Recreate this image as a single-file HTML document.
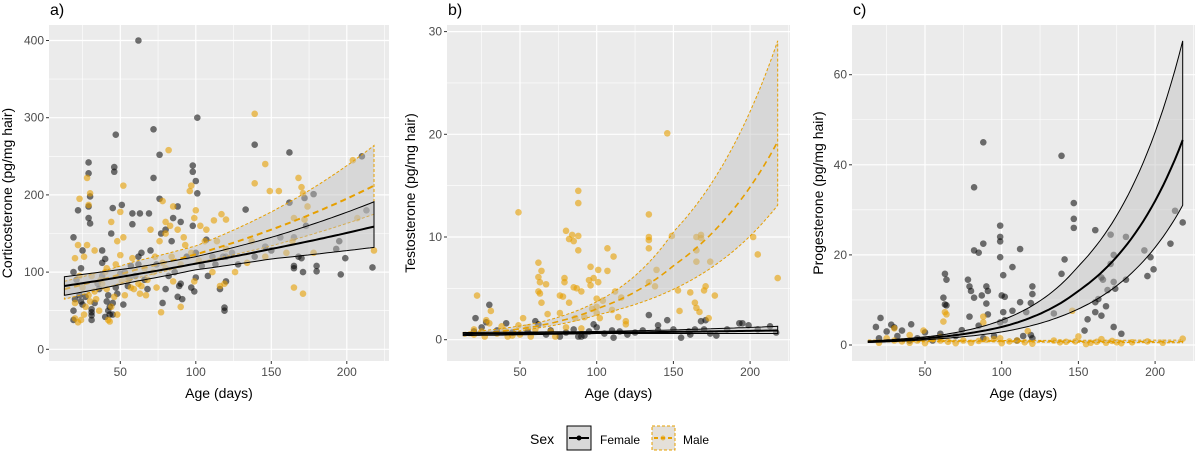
<!DOCTYPE html>
<html><head><meta charset="utf-8">
<style>
html,body{margin:0;padding:0;background:#fff;}
svg{display:block;font-family:"Liberation Sans",Arial,sans-serif;}
</style></head>
<body>
<svg id="chart" width="1200" height="451" viewBox="0 0 1200 451">
  <g>
    <text x="530" y="444" font-size="14" fill="#000">Sex</text>
    <g>
      <rect x="567" y="426" width="24" height="24" fill="#D9D9D9" stroke="#000" stroke-width="1"/>
      <line x1="569" y1="438" x2="589" y2="438" stroke="#000" stroke-width="2"/>
      <circle cx="579" cy="438" r="2.5" fill="#000"/>
      <text x="600" y="444" font-size="12" fill="#000">Female</text>
    </g>
    <g>
      <rect x="652" y="426" width="23" height="24" fill="#E4E0D9" stroke="#E69F00" stroke-width="1" stroke-dasharray="3,2"/>
      <line x1="654" y1="438" x2="673" y2="438" stroke="#E69F00" stroke-width="2" stroke-dasharray="4,3"/>
      <circle cx="663" cy="438" r="2.5" fill="#E69F00" fill-opacity="0.6"/>
      <text x="683" y="444" font-size="12" fill="#000">Male</text>
    </g>
  </g>
</svg>
<script>
// ---------- data ----------
const fitAges = [13, 60, 100, 150, 218];

const cortFemaleFit = [82, 97, 111, 130, 159];
const cortFemaleLo  = [70, 88, 103, 117, 132];
const cortFemaleHi  = [94, 106, 120, 145, 191];
const cortMaleFit   = [78, 103, 123, 155, 212];
const cortMaleLo    = [65, 92, 112, 134, 175];
const cortMaleHi    = [88, 114, 134, 178, 264];
const cortFemalePts = [[62,400],[101,300],[72,285],[47,278],[139,265],[76,252],[162,255],[29,242],[46,236],[46,230],[29,228],[98,238],[98,230],[100,218],[72,222],[101,202],[30,198],[210,250],[178,201],[172,196],[29,185],[51,187],[22,180],[58,176],[63,176],[69,176],[76,195],[88,185],[133,181],[162,190],[213,180],[29,170],[30,163],[45,183],[58,162],[44,150],[19,145],[77,150],[80,155],[90,165],[98,160],[107,142],[118,120],[139,120],[146,133],[156,145],[165,145],[165,108],[165,105],[171,100],[173,160],[180,108],[180,101],[193,130],[195,140],[199,118],[196,97],[217,106],[19,100],[21,90],[24,105],[25,128],[20,65],[19,50],[19,38],[31,52],[31,38],[38,128],[38,112],[42,70],[43,55],[47,80],[45,60],[52,58],[53,100],[57,108],[60,95],[64,125],[68,78],[78,60],[80,78],[88,68],[90,85],[91,65],[97,80],[99,75],[100,93],[104,108],[111,120],[116,78],[119,50],[119,54],[120,88],[120,120],[128,110],[150,128],[168,120],[170,118],[38,95],[35,85],[27,68],[45,45],[40,42],[33,60],[23,70],[55,82],[84,140],[85,170],[40,117],[24,62],[25,58],[31,48],[31,44],[36,78],[41,62],[42,50],[43,45],[48,72],[50,98],[56,92],[62,120],[62,110],[66,90],[70,128],[74,110],[82,95],[86,100],[89,82],[94,120],[100,125],[108,95],[113,110],[124,125]];
const cortMalePts = [[139,305],[82,258],[146,240],[204,245],[139,215],[149,205],[155,205],[168,222],[170,210],[171,202],[174,185],[96,205],[97,212],[52,212],[28,222],[30,202],[23,195],[29,187],[50,178],[78,192],[85,185],[100,180],[88,155],[80,165],[70,155],[80,150],[99,170],[103,160],[107,155],[117,175],[120,168],[112,167],[165,170],[172,168],[207,170],[137,140],[114,140],[97,125],[92,145],[52,145],[48,140],[44,165],[22,135],[28,135],[33,128],[20,118],[26,120],[41,105],[50,122],[58,118],[66,105],[72,100],[78,112],[80,105],[84,120],[90,110],[120,130],[134,112],[165,80],[171,72],[178,125],[218,128],[23,95],[20,60],[22,35],[26,45],[30,62],[33,75],[36,50],[42,38],[44,55],[46,68],[48,45],[53,70],[57,80],[63,72],[68,90],[74,80],[77,48],[85,88],[90,55],[99,88],[111,100],[116,82],[119,85],[126,100],[146,120],[160,125],[164,140],[31,95],[38,85],[40,100],[55,90],[62,85],[25,80],[20,40],[24,38],[27,55],[29,70],[34,65],[37,90],[41,78],[43,36],[47,110],[51,88],[59,78],[64,82],[67,70],[73,120],[76,140],[83,160],[93,135],[102,115],[106,140]];

const testFemaleFit = [0.55, 0.62, 0.68, 0.76, 0.9];
const testFemaleLo  = [0.4, 0.5, 0.6, 0.6, 0.6];
const testFemaleHi  = [0.7, 0.75, 0.8, 0.95, 1.3];
const testMaleFit   = [0.5, 1.3, 3.0, 7.2, 19.3];
const testMaleLo    = [0.35, 1.1, 2.4, 4.9, 13.1];
const testMaleHi    = [0.7, 1.6, 3.7, 10.5, 29.1];
const testFemalePts = [[21,2.1],[30,3.4],[28,1.7],[41,1.6],[62,1.5],[60,1.8],[76,0.3],[85,1.0],[88,0.3],[90,0.3],[98,1.5],[100,1.2],[111,0.2],[120,0.5],[134,2.4],[146,1.9],[155,0.2],[161,0.5],[164,1.0],[168,1.8],[171,1.9],[174,0.6],[178,0.4],[193,1.6],[195,1.6],[199,1.4],[213,1.3],[217,0.7],[20,0.8],[25,1.2],[35,0.9],[45,0.7],[55,0.8],[70,0.9],[80,0.7],[95,0.8],[105,0.6],[115,0.8],[130,0.9],[140,1.4],[150,1.0],[160,0.8],[170,1.0],[185,1.0],[205,1.0],[67,0.5],[92,0.4],[110,0.9],[125,0.7],[140,0.9]];
const testMalePts = [[146,20.1],[88,14.5],[88,13.3],[49,12.4],[134,12.2],[80,10.6],[84,10.2],[88,10.1],[82,9.8],[85,9.6],[134,10],[134,9.7],[134,8.9],[149,10.1],[165,10],[168,10.2],[168,9.9],[202,10],[205,8.3],[88,8.7],[107,8.9],[111,8.1],[165,8.7],[165,7.6],[62,7.5],[64,6.7],[96,7.1],[101,6.8],[107,6.7],[139,6.8],[174,7.6],[218,6.0],[62,6.1],[63,5.6],[67,5.4],[79,6.0],[79,5.6],[85,5.1],[87,5.0],[95,5.8],[96,5.3],[98,6.0],[101,5.6],[134,5.6],[138,5.2],[153,4.8],[161,4.6],[170,4.8],[171,5.2],[177,4.3],[62,4.7],[63,4.5],[64,3.6],[76,4.3],[78,4.2],[82,3.6],[90,4.7],[100,4.0],[104,3.8],[112,4.7],[116,4.1],[164,3.6],[165,3.1],[167,2.7],[154,2.8],[173,2.1],[22,4.3],[31,2.8],[49,1.4],[52,2.1],[68,2.5],[76,2.6],[86,2.1],[92,2.2],[100,2.6],[102,2.1],[114,2.2],[119,1.5],[119,1.8],[20,0.5],[25,0.8],[30,1.6],[35,0.6],[40,0.9],[45,0.4],[50,0.5],[55,1.2],[60,1.0],[70,0.8],[73,0.3],[80,1.2],[90,1.1],[97,3.0],[100,3.2],[110,2.9],[20,1.0],[27,0.3],[42,0.3],[57,0.3],[38,1.3],[28,1.9]];

const progFemaleFit = [0.7, 1.8, 4.0, 12, 45.5];
const progFemaleLo  = [0.55, 1.4, 2.9, 8, 31];
const progFemaleHi  = [0.9, 2.2, 5.5, 17.5, 67.5];
const progMaleFit   = [0.9, 0.9, 0.85, 0.8, 0.75];
const progMaleLo    = [0.7, 0.75, 0.7, 0.6, 0.5];
const progMaleHi    = [1.1, 1.05, 1.0, 1.05, 1.1];
const progFemalePts = [[88,45],[139,42],[82,35],[147,31.5],[147,28],[147,26],[99,26.5],[99,24],[99,23],[88,22.5],[82,21],[85,20.5],[112,21.3],[99,19.5],[141,19],[161,25.5],[171,24.5],[181,24],[213,29.8],[218,27.2],[193,21],[210,22.5],[197,19.5],[199,16.8],[195,15.3],[173,20],[171,18],[165,15],[166,14.5],[173,14],[181,14.5],[174,12.5],[169,12.2],[139,15.8],[101,15.5],[107,17.3],[63,15.8],[64,14.5],[78,14.5],[79,13],[90,13],[91,12],[80,12],[82,10.5],[87,11],[62,10.5],[63,9],[64,8.8],[100,11],[102,10.7],[112,9.5],[119,9.3],[120,13],[120,11.3],[161,9.5],[163,10.2],[168,8.6],[90,9.2],[91,6.8],[79,6.3],[101,7.3],[107,7.6],[116,7.3],[134,7],[161,7.3],[165,6.5],[156,5.7],[154,3.2],[173,4],[178,2.5],[99,5],[102,5.5],[85,4.3],[21,6],[18,4],[28,4.5],[41,4.6],[35,3.2],[50,2.8],[60,2.5],[74,3.3],[119,2.2],[114,2.0],[30,3.9],[25,3],[45,1.5],[55,1.0],[70,2.0],[95,2.0],[110,1.0],[120,1.5],[88,1.5],[40,1.0],[20,1.5],[32,2.0]];
const progMalePts = [[63,7.3],[64,6.8],[88,6.3],[146,7.6],[117,3.1],[62,5.2],[30,3.7],[49,3.2],[40,2.2],[20,0.5],[25,1.5],[30,1.0],[35,0.8],[40,0.5],[45,1.0],[50,0.4],[55,1.3],[60,1.0],[65,0.7],[70,0.4],[75,1.0],[80,0.5],[85,0.9],[90,1.2],[95,1.3],[100,0.4],[105,0.8],[110,1.0],[115,0.6],[120,0.3],[134,1.0],[138,0.6],[142,0.7],[148,0.8],[150,1.9],[155,0.2],[158,0.5],[162,0.7],[165,1.3],[168,0.5],[172,0.9],[175,0.6],[178,0.4],[185,0.6],[195,0.8],[205,0.5],[218,1.4],[60,1.8],[88,5],[99,1.5]];

const xTicks = [50, 100, 150, 200];
const xMinor = [25, 75, 125, 175, 225];
const cortYTicks = [0, 100, 200, 300, 400];
const cortYMinor = [50, 150, 250, 350];
const testYTicks = [0, 10, 20, 30];
const testYMinor = [5, 15, 25];
const progYTicks = [0, 20, 40, 60];
const progYMinor = [10, 30, 50];

// ---------- drawing ----------
const NS = "http://www.w3.org/2000/svg";
const svg = document.getElementById("chart");
function mk(tag, attrs, parent) {
  const e = document.createElementNS(NS, tag);
  for (const k in attrs) e.setAttribute(k, attrs[k]);
  (parent || svg).appendChild(e);
  return e;
}
function interp(ages, vals, a) {
  let i = 0;
  while (i < ages.length - 2 && a > ages[i + 1]) i++;
  const t = (a - ages[i]) / (ages[i + 1] - ages[i]);
  return Math.exp(Math.log(vals[i]) + t * (Math.log(vals[i + 1]) - Math.log(vals[i])));
}

function panel(cfg) {
  const g = mk("g", {});
  
  
  const X = a => cfg.x0 + a * cfg.xs;
  const Y = v => cfg.y0 - v * cfg.ys;
  const bg = mk("rect", {x: cfg.L, y: cfg.T, width: cfg.R - cfg.L, height: cfg.B - cfg.T, fill: "#EBEBEB"}, g);
  
  
  cfg.yMinor.forEach(v => {
    const l = mk("line", {x1: cfg.L, x2: cfg.R, y1: Y(v), y2: Y(v), stroke: "#fff", "stroke-width": 0.6}, g);
    
    
  });
  xMinor.forEach(a => {
    if (X(a) > cfg.R) return;
    const l = mk("line", {x1: X(a), x2: X(a), y1: cfg.T, y2: cfg.B, stroke: "#fff", "stroke-width": 0.6}, g);
    
    
  });
  cfg.yTicks.forEach(v => {
    const l = mk("line", {x1: cfg.L, x2: cfg.R, y1: Y(v), y2: Y(v), stroke: "#fff", "stroke-width": 1.2}, g);
    
    
    const tk = mk("line", {x1: cfg.L - 3, x2: cfg.L, y1: Y(v), y2: Y(v), stroke: "#333", "stroke-width": 1}, g);
    
    
    const t = mk("text", {x: cfg.L - 5, y: Y(v) + 4, "font-size": 12, fill: "#4D4D4D", "text-anchor": "end"}, g);
    t.textContent = v;
    
    
  });
  xTicks.forEach(a => {
    const l = mk("line", {x1: X(a), x2: X(a), y1: cfg.T, y2: cfg.B, stroke: "#fff", "stroke-width": 1.2}, g);
    
    
    const tk = mk("line", {x1: X(a), x2: X(a), y1: cfg.B, y2: cfg.B + 3, stroke: "#333", "stroke-width": 1}, g);
    
    
    const t = mk("text", {x: X(a), y: cfg.B + 15, "font-size": 12, fill: "#4D4D4D", "text-anchor": "middle"}, g);
    t.textContent = a;
    
    
  });
  // points
  cfg.femalePts.forEach(p => {
    const c = mk("circle", {cx: X(p[0]), cy: Y(p[1]), r: 3.3, fill: "#000", "fill-opacity": 0.55}, g);
    
    
  });
  cfg.malePts.forEach(p => {
    const c = mk("circle", {cx: X(p[0]), cy: Y(p[1]), r: 3.3, fill: "#E69F00", "fill-opacity": 0.6}, g);
    
    
  });
  // fits
  function band(fit, lo, hi, color, dash, nm, lw) {
    const a0 = fitAges[0], a1 = fitAges[fitAges.length - 1];
    const up = [], dn = [], mid = [];
    for (let i = 0; i <= 80; i++) {
      const a = a0 + (a1 - a0) * i / 80;
      up.push(X(a).toFixed(1) + "," + Y(interp(fitAges, hi, a)).toFixed(1));
      dn.push(X(a).toFixed(1) + "," + Y(interp(fitAges, lo, a)).toFixed(1));
      mid.push(X(a).toFixed(1) + "," + Y(interp(fitAges, fit, a)).toFixed(1));
    }
    const poly = mk("polygon", {points: up.concat(dn.slice().reverse()).join(" "), fill: "#BEBEBE", "fill-opacity": 0.45,
      stroke: color, "stroke-width": 1, "stroke-dasharray": dash ? "3,2" : "none"}, g);
    
    
    const pl = mk("polyline", {points: mid.join(" "), fill: "none", stroke: color, "stroke-width": lw, "stroke-dasharray": dash ? "6,4" : "none"}, g);
    
    
  }
  band(cfg.mFit, cfg.mLo, cfg.mHi, "#E69F00", true, "male", cfg.mlw);
  band(cfg.fFit, cfg.fLo, cfg.fHi, "#000", false, "female", 2);
  // labels
  const pl = mk("text", {x: cfg.L + 1, y: 15, "font-size": 16, fill: "#000"}, g);
  pl.textContent = cfg.label;
  
  
  const xt = mk("text", {x: (cfg.L + cfg.R) / 2, y: 398, "font-size": 14, fill: "#000", "text-anchor": "middle"}, g);
  xt.textContent = "Age (days)";
  
  
  const yt = mk("text", {x: 0, y: 0, "font-size": 14, fill: "#000", "text-anchor": "middle",
    transform: "translate(" + cfg.ytx + "," + ((cfg.T + cfg.B) / 2) + ") rotate(-90)"}, g);
  yt.textContent = cfg.ytitle;
  
  
}

panel({name: "panel-a-corticosterone", label: "a)", L: 49, R: 389, T: 25, B: 361,
  x0: 44.8, xs: 1.51, y0: 349.3, ys: 0.772, yTicks: cortYTicks, yMinor: cortYMinor,
  femalePts: cortFemalePts, malePts: cortMalePts,
  fFit: cortFemaleFit, fLo: cortFemaleLo, fHi: cortFemaleHi,
  mFit: cortMaleFit, mLo: cortMaleLo, mHi: cortMaleHi, mlw: 2,
  ytitle: "Corticosterone (pg/mg hair)", ytx: 12});
panel({name: "panel-b-testosterone", label: "b)", L: 447, R: 790, T: 25, B: 361,
  x0: 443.3, xs: 1.534, y0: 339.7, ys: 10.27, yTicks: testYTicks, yMinor: testYMinor,
  femalePts: testFemalePts, malePts: testMalePts,
  fFit: testFemaleFit, fLo: testFemaleLo, fHi: testFemaleHi,
  mFit: testMaleFit, mLo: testMaleLo, mHi: testMaleHi, mlw: 1.6,
  ytitle: "Testosterone (pg/mg hair)", ytx: 415});
panel({name: "panel-c-progesterone", label: "c)", L: 852, R: 1195, T: 25, B: 361,
  x0: 848.3, xs: 1.534, y0: 345, ys: 4.505, yTicks: progYTicks, yMinor: progYMinor,
  femalePts: progFemalePts, malePts: progMalePts,
  fFit: progFemaleFit, fLo: progFemaleLo, fHi: progFemaleHi,
  mFit: progMaleFit, mLo: progMaleLo, mHi: progMaleHi, mlw: 1.3,
  ytitle: "Progesterone (pg/mg hair)", ytx: 823});
</script>
</body></html>
